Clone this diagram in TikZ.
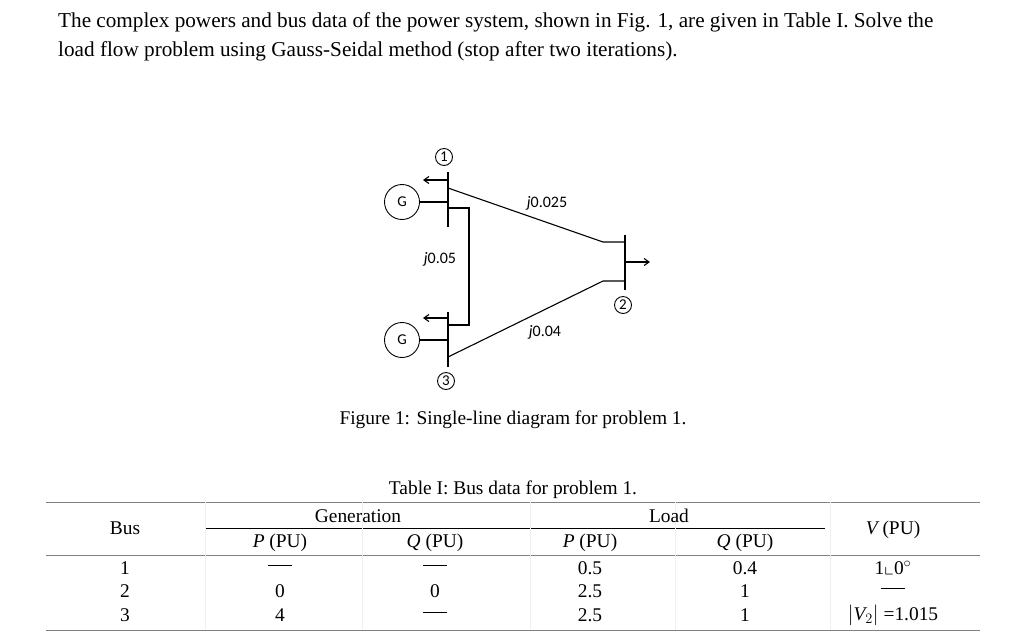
\documentclass[tikz,border=0pt]{standalone}
\usepackage{amssymb}
\usepackage{fontspec}
\setmainfont{Liberation Serif}
\newfontfamily\calfont{Carlito}
\usetikzlibrary{arrows.meta}
\begin{document}
\begin{tikzpicture}[x=1pt,y=-1pt,
  wire/.style={line width=1.1pt},
  gen/.style={circle,draw,line width=0.9pt,minimum size=35pt,inner sep=0pt,font=\calfont\fontsize{15}{15}\selectfont},
  busnum/.style={circle,draw,line width=0.9pt,minimum size=17pt,inner sep=0pt,font=\calfont\fontsize{15}{15}\selectfont},
  lbl/.style={font=\calfont\fontsize{16}{16}\selectfont},
  txt/.style={font=\fontsize{21.2}{24}\selectfont,inner sep=0pt},
  tb/.style={font=\fontsize{19.4}{19.4}\selectfont,inner sep=0pt},
  arr/.style={wire,-{Straight Barb[length=5pt,width=7pt]}}]
\useasboundingbox (0,0) rectangle (1024,641);
% title
\node[txt,anchor=west] (t1) at (58,22) {The complex powers and bus data of the power system, shown in Fig. 1, are given in Table I. Solve the};
\node[txt,anchor=west] (t2) at (58,51) {load flow problem using Gauss-Seidal method (stop after two iterations).};
% buses
\coordinate (b1t) at (448,172); \coordinate (b1b) at (448,227);
\coordinate (b2t) at (625,235); \coordinate (b2b) at (625,290);
\coordinate (b3t) at (448,312); \coordinate (b3b) at (448,367);
\draw[wire] (b1t)--(b1b); \draw[wire] (b2t)--(b2b); \draw[wire] (b3t)--(b3b);
\node[gen] (g1) at (402,202) {G};
\node[gen] (g3) at (402,340) {G};
\draw[wire] (g1.east)--(448,202);
\draw[wire] (g3.east)--(448,340);
\coordinate (a1) at (423,180); \coordinate (a3) at (423,318); \coordinate (a2) at (650,262);
\draw[arr] (448,180)--(a1);
\draw[arr] (448,318)--(a3);
\draw[arr] (625,262)--(a2);
\draw[wire] (448,188)--(603,242)--(625,242);
\draw[wire] (625,281)--(603,281)--(448,357);
\draw[wire] (448,208)--(469,208)--(469,325)--(448,325);
\node[busnum] (n1) at (444,157) {1};
\node[busnum] (n2) at (623,305) {2};
\node[busnum] (n3) at (446,381) {3};
\node[lbl] (l12) at (547,203) {\itshape j\upshape 0.025};
\node[lbl] (l13) at (440,259) {\itshape j\upshape 0.05};
\node[lbl] (l23) at (545,332) {\itshape j\upshape 0.04};
\node[tb] (cap) at (513,420) {Figure 1: Single-line diagram for problem 1.};
% table
\node[tb] (tcap) at (513,490) {Table I: Bus data for problem 1.};
\draw[line width=1pt,gray] (46,502)--(980,502);
\draw[line width=0.8pt] (205,528)--(825,528);
\draw[line width=0.8pt,gray] (46,555)--(980,555);
\draw[line width=1pt,gray] (46,630)--(980,630);
\foreach \x in {205,362,530,675,830} \draw[gray!12,line width=0.5pt] (\x,502)--(\x,630);
\node[tb] at (125,528) {Bus};
\node[tb] at (358,516) {Generation};
\node[tb] at (669,516) {Load};
\node[tb] at (893,530) {\itshape V\upshape\ (PU)};
\node[tb] at (280,543) {\itshape P\upshape\ (PU)};
\node[tb] at (435,543) {\itshape Q\upshape\ (PU)};
\node[tb] at (590,543) {\itshape P\upshape\ (PU)};
\node[tb] at (745,543) {\itshape Q\upshape\ (PU)};
\def\mydash{\rule[0.3em]{1.2em}{0.8pt}}
\foreach \y/\b/\pg/\qg/\pl/\ql in {568/1/\mydash/\mydash/0.5/0.4, 591/2/0/0/2.5/1, 615/3/4/\mydash/2.5/1}{
  \node[tb] at (125,\y) {\b};
  \node[tb] at (280,\y) {\pg};
  \node[tb] at (435,\y) {\qg};
  \node[tb] at (590,\y) {\pl};
  \node[tb] at (745,\y) {\ql};
}
\node[tb] at (893,568) {1$\llcorner$0$^{\circ}$};
\node[tb] at (893,591) {\mydash};
\node[tb] at (893,615) {$|$\itshape V\upshape$_2|$ =1.015};
\end{tikzpicture}
\end{document}
